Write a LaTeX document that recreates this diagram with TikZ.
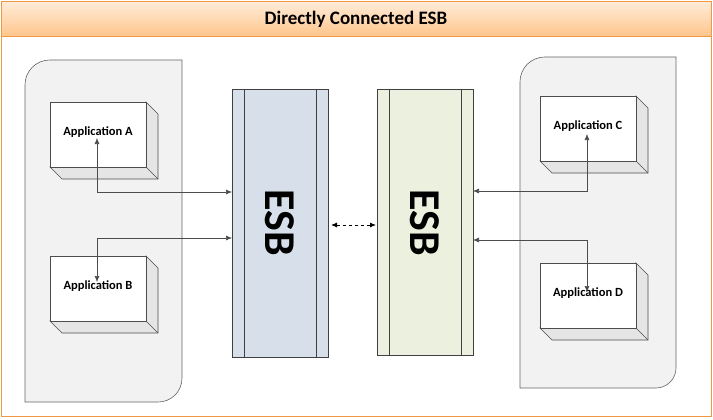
\documentclass[tikz,border=0pt]{standalone}
\usepackage{fontspec}
\setmainfont{Carlito}
\usetikzlibrary{arrows.meta}
\begin{document}
\begin{tikzpicture}[x=1pt,y=-1pt,
  cont/.style={draw=gray!80!black,fill=black!5,line width=0.6pt},
  face/.style={draw=black!70,line width=0.6pt},
  conn/.style={draw=black!70,line width=0.6pt,{Latex[length=6pt,width=5pt]}-{Latex[length=6pt,width=5pt]}},
  lbl/.style={font=\bfseries\fontsize{12.5}{14}\selectfont},
  esb/.style={font=\bfseries\fontsize{44}{48}\selectfont,rotate=-90}]
\useasboundingbox (0,0) rectangle (713,420);
\fill[white] (0,0) rectangle (713,420);
\shade[top color=orange!15,bottom color=orange!45!white] (1.5,1.5) rectangle (711.5,36);
\draw[draw=orange!70!brown!80,line width=1pt] (1.5,1.5) rectangle (711.5,416.5);
\draw[draw=orange!70!brown!80,line width=0.6pt] (1.5,36) -- (711.5,36);
\node[font=\bfseries\fontsize{19}{22}\selectfont] (title) at (356,19) {Directly Connected ESB};
% containers
\draw[cont] (25,402) -- (25,85) .. controls (25,71) and (36,60) .. (50,60) -- (182,60) -- (182,378) .. controls (182,392) and (171,402) .. (158,402) -- cycle;
\draw[cont] (520,388) -- (520,82) .. controls (520,68) and (531,57) .. (545,57) -- (676,57) -- (676,368) .. controls (676,379) and (667,388) .. (656,388) -- cycle;
% app boxes
\foreach \n/\x/\y/\t in {A/50/102/Application A, B/50/256/Application B, C/540/96/Application C, D/540/263/Application D}{
  \fill[black!10,face] (\x+96,\y) -- (\x+108,\y+12) -- (\x+108,\y+77) -- (\x+12,\y+77) -- (\x,\y+65) -- (\x+96,\y+65) -- cycle;
  \draw[face] (\x+96,\y+65) -- (\x+108,\y+77);
  \node[face,fill=white,minimum width=96pt,minimum height=65pt,inner sep=0pt,anchor=north west] (\n) at (\x,\y) {};
  \node[lbl] (\n l) at (\x+48,\y+30) {\t};
}
% ESBs
\node[draw=black!75,fill={rgb,255:red,214;green,223;blue,234},minimum width=96pt,minimum height=268pt,inner sep=0pt,anchor=north west,line width=0.7pt] (E1) at (232,89) {};
\draw[black!75,line width=0.7pt] (244,89) -- (244,357) (316,89) -- (316,357);
\node[esb] (E1t) at (280,223) {ESB};
\node[draw=black!75,fill={rgb,255:red,235;green,241;blue,222},minimum width=96pt,minimum height=266pt,inner sep=0pt,anchor=north west,line width=0.7pt] (E2) at (377,89) {};
\draw[black!75,line width=0.7pt] (389,89) -- (389,355) (461,89) -- (461,355);
\node[esb] (E2t) at (425,223) {ESB};
% connectors
\coordinate (a1) at (97,138); \coordinate (e1a) at (232,192);
\draw[conn] (a1) -- (97,192) -- (e1a);
\coordinate (b1) at (97,282); \coordinate (e1b) at (232,238);
\draw[conn] (e1b) -- (97,238) -- (b1);
\coordinate (c1) at (587,134); \coordinate (e2c) at (473,191);
\draw[conn] (c1) -- (587,191) -- (e2c);
\coordinate (d1) at (587,292); \coordinate (e2d) at (473,240);
\draw[conn] (e2d) -- (587,240) -- (d1);
\coordinate (m1) at (331,225); \coordinate (m2) at (376,225);
\draw[conn,dashed,line width=0.9pt,draw=black] (m1) -- (m2);
\end{tikzpicture}
\end{document}
